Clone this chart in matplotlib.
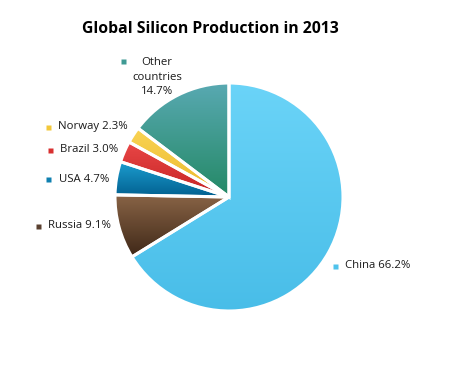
import matplotlib
matplotlib.use("Agg")
import matplotlib.pyplot as plt
import numpy as np
from matplotlib.colors import LinearSegmentedColormap

title = "Global Silicon Production in 2013"
categories = ["China", "Russia", "USA", "Brazil", "Norway", "Other countries"]
values = [66.2, 9.1, 4.7, 3.0, 2.3, 14.7]
label_texts = ["China 66.2%", "Russia 9.1%", "USA 4.7%", "Brazil 3.0%", "Norway 2.3%", "Other\ncountries\n14.7%"]

top_colors = ["#6bd4f8", "#8c6648", "#1ea2d4", "#ea4848", "#fad455", "#5aaab4"]
bot_colors = ["#48bde8", "#3c2616", "#005c8c", "#c42222", "#eab82a", "#238864"]
marker_colors = ["#4fc3ec", "#5a4030", "#0f80b0", "#d83030", "#f3c83a", "#3f9a94"]

W, H = 449, 365
fig = plt.figure(figsize=(W / 100, H / 100), dpi=100)
ax = fig.add_axes([0, 0, 1, 1])

cx, cy, r = 229, H - 197, 114
wedges, _ = ax.pie(values, startangle=90, counterclock=False, center=(cx, cy), radius=r,
                   frame=True, wedgeprops=dict(edgecolor="white", linewidth=2.2, facecolor="none", zorder=3))

for w, c1, c2 in zip(wedges, top_colors, bot_colors):
    path = w.get_path()
    verts = path.vertices
    y0, y1 = verts[:, 1].min(), verts[:, 1].max()
    x0, x1 = verts[:, 0].min(), verts[:, 0].max()
    cmap = LinearSegmentedColormap.from_list("g", [c2, c1])
    grad = np.linspace(0, 1, 256).reshape(-1, 1)
    im = ax.imshow(grad, extent=(x0 - 2, x1 + 2, y0 - 2, y1 + 2), origin="lower", cmap=cmap,
                   aspect="auto", zorder=2, interpolation="bilinear")
    im.set_clip_path(w)

ax.set_xlim(0, W)
ax.set_ylim(0, H)
ax.set_aspect("auto")
ax.axis("off")

font = "Open Sans"
fig.text(210 / W, 1 - 29 / H, title, ha="center", va="center", fontsize=11.3,
         fontweight="bold", family="Open Sans")

# label positions (marker x, text x, y) in pixels
label_pos = {
    "China": (335, 345, 266),
    "Russia": (38, 48, 226),
    "USA": (48, 59, 179),
    "Brazil": (50, 60, 150),
    "Norway": (48, 58, 127),
}
for cat, txt, mc in zip(categories, label_texts, marker_colors):
    if cat in label_pos:
        mx, tx, ty = label_pos[cat]
        ax.plot([mx], [H - ty], marker="s", ms=3.6, color=mc, mec="none", zorder=4)
        ax.text(tx, H - ty, txt, ha="left", va="center", fontsize=8.2, family=font, color="#1a1a1a")
    else:
        ax.plot([123], [H - 61], marker="s", ms=3.6, color=mc, mec="none", zorder=4)
        ax.text(157, H - 77, txt, ha="center", va="center", fontsize=8.2, family=font,
                color="#1a1a1a", linespacing=1.4)

fig.savefig("out.png", dpi=100)
